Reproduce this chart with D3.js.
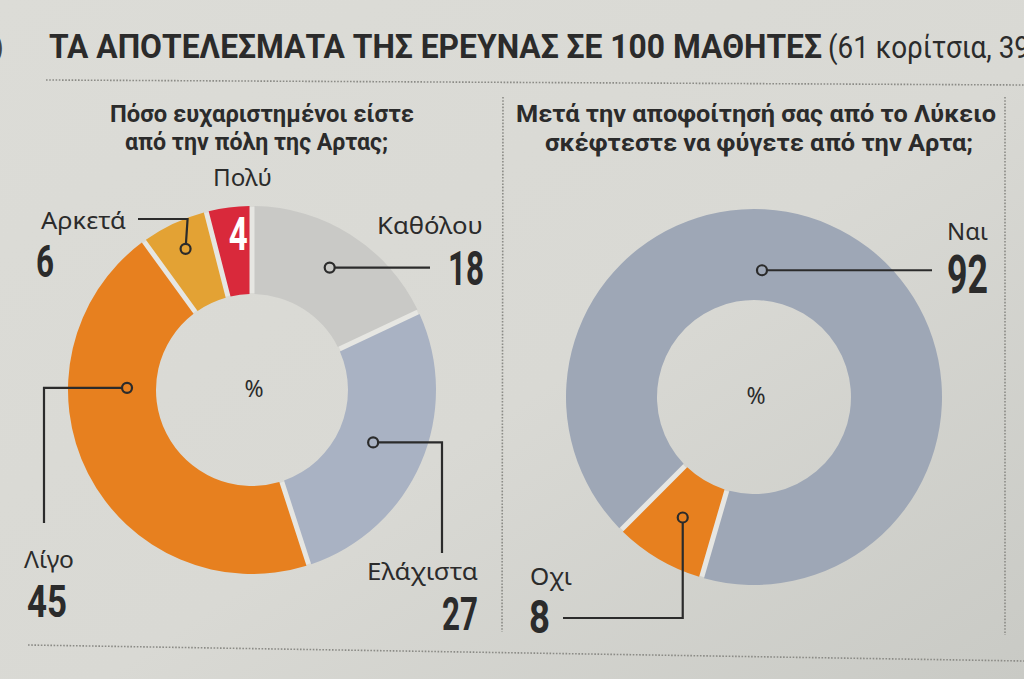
<!DOCTYPE html>
<meta charset="utf-8">
<style>
body { margin: 0; background: #d8d8d3; }
svg { display: block; }
.lead { fill: none; stroke: #2b2b2b; stroke-width: 2.2; }
.dots { stroke: #8b8b86; stroke-width: 1.6; stroke-dasharray: 1.6,1.6; }
</style>
<svg width="1024" height="679"></svg>
<script src="https://d3js.org/d3.v7.min.js"></script>
<script>

// survey answers (percent)
var satisfactionLabels = ["Καθόλου", "Ελάχιστα", "Λίγο", "Αρκετά", "Πολύ"];
var satisfactionValues = [18, 27, 45, 6, 4];
var leaveLabels = ["Ναι", "Οχι"];
var leaveValues = [92, 8];

var satisfactionColors = ["#c9c9c6", "#a9b2c3", "#e7801f", "#e3a234", "#d9293b"];
var leaveColors = ["#9ea7b6", "#e7801f"];

var svg = d3.select("svg"),
    width = +svg.attr("width"),
    height = +svg.attr("height");

var ink = "#2b2b2b",
    boldFont = "Roboto, 'Noto Sans', sans-serif",
    lightFont = "'Noto Sans', 'DejaVu Sans', sans-serif";

// paper background with a little of the photo's light falloff
var grad = svg.append("defs").append("linearGradient")
    .attr("id", "paper").attr("x1", 0).attr("y1", 0).attr("x2", 1).attr("y2", 1);
grad.append("stop").attr("offset", "0").attr("stop-color", "#dcdcd7");
grad.append("stop").attr("offset", "0.55").attr("stop-color", "#d9d9d4");
grad.append("stop").attr("offset", "1").attr("stop-color", "#c9cac5");
svg.append("rect").attr("width", width).attr("height", height).attr("fill", "url(#paper)");

// text helper: x is the left edge unless anchor given, len squeezes to the printed width
function txt(str, x, y, size, weight, family, len, anchor, fill) {
  var t = svg.append("text")
      .attr("x", x).attr("y", y)
      .attr("font-size", size)
      .attr("font-weight", weight)
      .attr("font-family", family)
      .attr("fill", fill || ink)
      .attr("text-anchor", anchor || "start")
      .text(str);
  if (len) t.attr("textLength", len).attr("lengthAdjust", "spacingAndGlyphs");
  return t;
}

// title (runs off the right edge as in the clipping)
txt(")", -6, 57, 30, 400, lightFont, null, null, "#444");
txt("ΤΑ ΑΠΟΤΕΛΕΣΜΑΤΑ ΤΗΣ ΕΡΕΥΝΑΣ ΣΕ 100 ΜΑΘΗΤΕΣ", 49, 58, 33, 700, boldFont, 773);
var sub = txt("(61 κορίτσια, 39 αγόρια)", 828, 58, 32, 400, boldFont);
var fullW = sub.node().getComputedTextLength();
sub.text("(61 κορίτσια, 39");
var partW = sub.node().getComputedTextLength();
sub.text("(61 κορίτσια, 39 αγόρια)").attr("textLength", fullW * 202 / partW)
    .attr("lengthAdjust", "spacingAndGlyphs");

// dotted rules
svg.append("line").attr("class", "dots").attr("x1", 46).attr("y1", 80).attr("x2", width).attr("y2", 85);
svg.append("line").attr("class", "dots").attr("x1", 503).attr("y1", 97).attr("x2", 502).attr("y2", 632);
svg.append("line").attr("class", "dots").attr("x1", 1005).attr("y1", 97).attr("x2", 1005).attr("y2", 635);
svg.append("line").attr("class", "dots").attr("x1", 28).attr("y1", 645).attr("x2", width).attr("y2", 661);

// question headings
txt("Πόσο ευχαριστημένοι είστε", 110, 122, 24, 700, boldFont, 304);
txt("από την πόλη της Αρτας;", 125, 150, 24, 700, boldFont, 263);
txt("Μετά την αποφοίτησή σας από το Λύκειο", 516, 122, 24, 700, boldFont, 480);
txt("σκέφτεστε να φύγετε από την Αρτα;", 545, 151, 24, 700, boldFont, 428);

function donut(values, colors, cx, cy, outer, inner, start) {
  var pie = d3.pie().sort(null).value(function(d) { return d; })
      .startAngle(start).endAngle(start + 2 * Math.PI);
  var arcs = pie(values);
  var arc = d3.arc().innerRadius(inner).outerRadius(outer).padAngle(0.024);
  var g = svg.append("g").attr("transform", "translate(" + cx + "," + cy + ")");

  // pale ring underneath so the slice gaps read as paper white
  g.append("path")
      .attr("d", d3.arc().innerRadius(inner + 1).outerRadius(outer - 1)
        .startAngle(0).endAngle(2 * Math.PI)())
      .attr("fill", "#e6e6e2");

  g.selectAll(".slice")
    .data(arcs)
    .enter().append("path")
      .attr("class", "slice")
      .attr("d", arc)
      .attr("fill", function(d, i) { return colors[i]; });

  g.append("text")
      .attr("y", 7).attr("x", 2)
      .attr("text-anchor", "middle")
      .attr("font-family", lightFont)
      .attr("font-size", 23)
      .attr("fill", ink)
      .text("%");

  return {arcs: arcs, cx: cx, cy: cy, outer: outer, inner: inner, g: g};
}

// point on the ring at radius r, on the slice's middle or at a given angle (degrees)
function ringPoint(ch, i, r, deg) {
  var a = deg != null ? deg * Math.PI / 180
      : (ch.arcs[i].startAngle + ch.arcs[i].endAngle) / 2;
  return [ch.cx + r * Math.sin(a), ch.cy - r * Math.cos(a)];
}

function leader(ch, i, r, deg, path) {
  var p = ringPoint(ch, i, r, deg);
  var pts = [p].concat(path.map(function(f) { return f(p); }));
  svg.append("path").attr("class", "lead").attr("d", d3.line()(pts));
  svg.append("circle")
      .attr("cx", p[0]).attr("cy", p[1]).attr("r", 5)
      .attr("fill", ch === left ? satisfactionColors[i] : leaveColors[i])
      .attr("stroke", ink).attr("stroke-width", 2.2);
}

var left = donut(satisfactionValues, satisfactionColors, 252, 390, 184, 96, 0);
var right = donut(leaveValues, leaveColors, 754, 397, 188, 97, 225 * Math.PI / 180);

// left chart labels
leader(left, 0, 145, null, [function(p) { return [430, p[1]]; }]);
txt(satisfactionLabels[0], 377, 234, 23, 400, lightFont, 106);
txt(satisfactionValues[0], 448, 285, 49, 700, boldFont, 36);

leader(left, 1, 132, null, [function(p) { return [442, p[1]]; }, function(p) { return [442, 553]; }]);
txt(satisfactionLabels[1], 367, 580, 23, 400, lightFont, 111);
txt(satisfactionValues[1], 442, 630, 47, 700, boldFont, 36);

leader(left, 2, 125, 271, [function(p) { return [44, p[1]]; }, function(p) { return [44, 523]; }]);
txt(satisfactionLabels[2], 24, 568, 23, 400, lightFont, 50);
txt(satisfactionValues[2], 27, 617, 45, 700, boldFont, 40);

leader(left, 3, 156, null, [function(p) { return [p[0] + 2, 219]; }, function(p) { return [138, 219]; }]);
txt(satisfactionLabels[3], 41, 229, 23, 400, lightFont, 85);
txt(satisfactionValues[3], 36, 277, 45, 700, boldFont, 18);

txt(satisfactionLabels[4], 213, 186, 23, 400, lightFont, 59);
var pol = ringPoint(left, 4, 157, null);
txt(satisfactionValues[4], pol[0] + 6, pol[1] + 16, 46, 700, boldFont, 19, "middle", "#ffffff");

// right chart labels
leader(right, 0, 127, 3.6, [function(p) { return [932, p[1]]; }]);
txt(leaveLabels[0], 947, 240, 23, 400, lightFont, 41);
txt(leaveValues[0], 947, 293, 53, 700, boldFont, 41);

leader(right, 1, 140, null, [function(p) { return [p[0], 618]; }, function(p) { return [563, 618]; }]);
txt(leaveLabels[1], 530, 585, 23, 400, lightFont, 42);
txt(leaveValues[1], 529, 633, 46, 700, boldFont, 21);

</script>
